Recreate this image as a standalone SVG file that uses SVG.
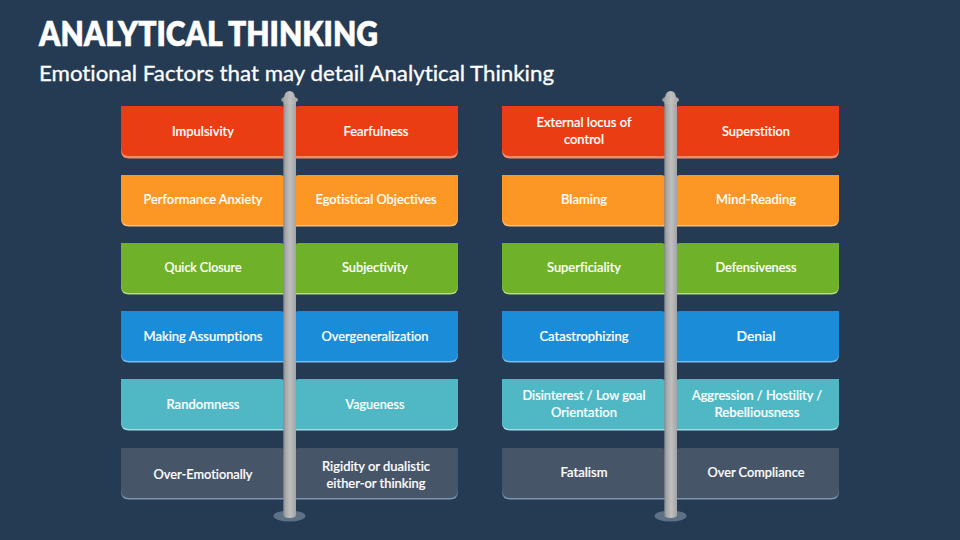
<svg xmlns="http://www.w3.org/2000/svg" width="960" height="540" viewBox="0 0 960 540">
<defs>
<linearGradient id="pole" x1="0" y1="0" x2="1" y2="0">
<stop offset="0" stop-color="#86888b"/><stop offset="0.2" stop-color="#a8a9ab"/><stop offset="0.55" stop-color="#bfbfbf"/><stop offset="1" stop-color="#a2a3a5"/>
</linearGradient>
<path id="L" d="M0 0H159Q163 0 165 4V50H8Q0 50 0 42Z"/>
<path id="R" d="M3 0Q-1 0 -2 4V50H154Q162 50 162 42V0Z"/>
</defs>
<style>
text{font-family:Lato,"Open Sans","Liberation Sans",sans-serif;fill:#fff;text-anchor:middle;font-variant-ligatures:none}
.t{font-size:12.5px;font-weight:500;stroke:#fff;stroke-width:.2px}
.red .m{fill:#EB3D13}.red .s{fill:#F58A6B}
.ora .m{fill:#FC9624}.ora .s{fill:#FDC080}
.gre .m{fill:#6FB128}.gre .s{fill:#B4DA84}
.blu .m{fill:#1A8CD8}.blu .s{fill:#7ABCEB}
.tea .m{fill:#4FB8C4}.tea .s{fill:#A0DCE2}
.sla .m{fill:#475569}.sla .s{fill:#7F95B0}
.base{fill:#5D7085}
.head{fill:url(#pole)}
</style>
<rect width="960" height="540" fill="#253B54"/>
<text id="title" x="39" y="46" style="text-anchor:start;font-size:33px;font-weight:800;stroke:#fff;stroke-width:.5px" textLength="339" lengthAdjust="spacingAndGlyphs">ANALYTICAL THINKING</text>
<text id="subtitle" x="39" y="81" style="text-anchor:start;font-size:21.5px;stroke:#fff;stroke-width:.3px" textLength="515" lengthAdjust="spacingAndGlyphs">Emotional Factors that may detail Analytical Thinking</text>

<g id="n1" class="red"><use class="s" href="#L" x="121" y="108.500"/><use class="m" href="#L" x="121" y="106"/><text class="t" x="203" y="136" textLength="62" lengthAdjust="spacingAndGlyphs">Impulsivity</text></g>
<g id="n2" class="red"><use class="s" href="#R" x="296" y="108.500"/><use class="m" href="#R" x="296" y="106"/><text class="t" x="376" y="136" textLength="65" lengthAdjust="spacingAndGlyphs">Fearfulness</text></g>
<g id="n3" class="ora"><use class="s" href="#L" x="121" y="176.500"/><use class="m" href="#L" x="121" y="175"/><text class="t" x="203" y="204" textLength="119" lengthAdjust="spacingAndGlyphs">Performance Anxiety</text></g>
<g id="n4" class="ora"><use class="s" href="#R" x="296" y="176.500"/><use class="m" href="#R" x="296" y="175"/><text class="t" x="376" y="204" textLength="121" lengthAdjust="spacingAndGlyphs">Egotistical Objectives</text></g>
<g id="n5" class="gre"><use class="s" href="#L" x="121" y="244.500"/><use class="m" href="#L" x="121" y="243"/><text class="t" x="203" y="272" textLength="77" lengthAdjust="spacingAndGlyphs">Quick Closure</text></g>
<g id="n6" class="gre"><use class="s" href="#R" x="296" y="244.500"/><use class="m" href="#R" x="296" y="243"/><text class="t" x="375" y="272" textLength="66" lengthAdjust="spacingAndGlyphs">Subjectivity</text></g>
<g id="n7" class="blu"><use class="s" href="#L" x="121" y="312.500"/><use class="m" href="#L" x="121" y="311"/><text class="t" x="203" y="341" textLength="119" lengthAdjust="spacingAndGlyphs">Making Assumptions</text></g>
<g id="n8" class="blu"><use class="s" href="#R" x="296" y="312.500"/><use class="m" href="#R" x="296" y="311"/><text class="t" x="375" y="341" textLength="107" lengthAdjust="spacingAndGlyphs">Overgeneralization</text></g>
<g id="n9" class="tea"><use class="s" href="#L" x="121" y="380.500"/><use class="m" href="#L" x="121" y="379"/><text class="t" x="203" y="409" textLength="73" lengthAdjust="spacingAndGlyphs">Randomness</text></g>
<g id="n10" class="tea"><use class="s" href="#R" x="296" y="380.500"/><use class="m" href="#R" x="296" y="379"/><text class="t" x="375" y="409" textLength="59" lengthAdjust="spacingAndGlyphs">Vagueness</text></g>
<g id="n11" class="sla"><use class="s" href="#L" x="121" y="449.500"/><use class="m" href="#L" x="121" y="448"/><text class="t" x="203" y="479" textLength="99" lengthAdjust="spacingAndGlyphs">Over-Emotionally</text></g>
<g id="n12" class="sla"><use class="s" href="#R" x="296" y="449.500"/><use class="m" href="#R" x="296" y="448"/><text class="t" x="376" y="471" textLength="108" lengthAdjust="spacingAndGlyphs">Rigidity or dualistic</text><text class="t" x="376" y="488" textLength="99" lengthAdjust="spacingAndGlyphs">either-or thinking</text></g>

<g id="n13" class="red"><use class="s" href="#L" x="502" y="108.500"/><use class="m" href="#L" x="502" y="106"/><text class="t" x="584" y="127" textLength="95" lengthAdjust="spacingAndGlyphs">External locus of</text><text class="t" x="584" y="144" textLength="40" lengthAdjust="spacingAndGlyphs">control</text></g>
<g id="n14" class="red"><use class="s" href="#R" x="677" y="108.500"/><use class="m" href="#R" x="677" y="106"/><text class="t" x="756" y="136" textLength="68" lengthAdjust="spacingAndGlyphs">Superstition</text></g>
<g id="n15" class="ora"><use class="s" href="#L" x="502" y="176.500"/><use class="m" href="#L" x="502" y="175"/><text class="t" x="584" y="204" textLength="46" lengthAdjust="spacingAndGlyphs">Blaming</text></g>
<g id="n16" class="ora"><use class="s" href="#R" x="677" y="176.500"/><use class="m" href="#R" x="677" y="175"/><text class="t" x="756" y="204" textLength="80" lengthAdjust="spacingAndGlyphs">Mind-Reading</text></g>
<g id="n17" class="gre"><use class="s" href="#L" x="502" y="244.500"/><use class="m" href="#L" x="502" y="243"/><text class="t" x="584" y="272" textLength="74" lengthAdjust="spacingAndGlyphs">Superficiality</text></g>
<g id="n18" class="gre"><use class="s" href="#R" x="677" y="244.500"/><use class="m" href="#R" x="677" y="243"/><text class="t" x="756" y="272" textLength="81" lengthAdjust="spacingAndGlyphs">Defensiveness</text></g>
<g id="n19" class="blu"><use class="s" href="#L" x="502" y="312.500"/><use class="m" href="#L" x="502" y="311"/><text class="t" x="584" y="341" textLength="89" lengthAdjust="spacingAndGlyphs">Catastrophizing</text></g>
<g id="n20" class="blu"><use class="s" href="#R" x="677" y="312.500"/><use class="m" href="#R" x="677" y="311"/><text class="t" x="756" y="341" textLength="39" lengthAdjust="spacingAndGlyphs">Denial</text></g>
<g id="n21" class="tea"><use class="s" href="#L" x="502" y="380.500"/><use class="m" href="#L" x="502" y="379"/><text class="t" x="584" y="400" textLength="123" lengthAdjust="spacingAndGlyphs">Disinterest / Low goal</text><text class="t" x="584" y="417" textLength="66" lengthAdjust="spacingAndGlyphs">Orientation</text></g>
<g id="n22" class="tea"><use class="s" href="#R" x="677" y="380.500"/><use class="m" href="#R" x="677" y="379"/><text class="t" x="757" y="400" textLength="130" lengthAdjust="spacingAndGlyphs">Aggression / Hostility /</text><text class="t" x="757" y="417" textLength="85" lengthAdjust="spacingAndGlyphs">Rebelliousness</text></g>
<g id="n23" class="sla"><use class="s" href="#L" x="502" y="449.500"/><use class="m" href="#L" x="502" y="448"/><text class="t" x="584" y="477" textLength="47" lengthAdjust="spacingAndGlyphs">Fatalism</text></g>
<g id="n24" class="sla"><use class="s" href="#R" x="677" y="449.500"/><use class="m" href="#R" x="677" y="448"/><text class="t" x="756" y="477" textLength="97" lengthAdjust="spacingAndGlyphs">Over Compliance</text></g>

<g id="pole-1">
<ellipse class="base" cx="289.500" cy="516" rx="16" ry="5.500"/>
<path class="head" d="M283.300 104V515Q283.300 518 289.600 518Q296 518 296 515V104Z"/>
<path class="head" d="M284 97Q285 91 289.600 91Q294.300 91 295 97Q298 98 298 100Q298 101.500 296 102V104H283.300V102Q281 101.500 281 100Q281 98 284 97Z"/>
</g>
<g id="pole-2">
<ellipse class="base" cx="670.500" cy="516" rx="16" ry="5.500"/>
<path class="head" d="M664.300 104V515Q664.300 518 670.600 518Q677 518 677 515V104Z"/>
<path class="head" d="M665 97Q666 91 670.600 91Q675.300 91 676 97Q679 98 679 100Q679 101.500 677 102V104H664.300V102Q662 101.500 662 100Q662 98 665 97Z"/>
</g>
</svg>
